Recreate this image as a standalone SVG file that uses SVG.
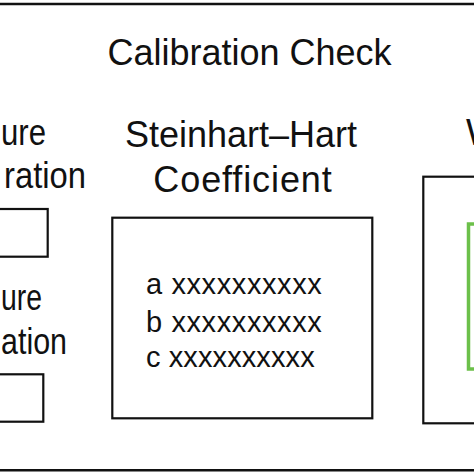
<svg xmlns="http://www.w3.org/2000/svg" width="474" height="474" viewBox="0 0 474 474">
<style>
.h{font-family:"Liberation Sans",Arial,sans-serif;font-size:36px;fill:#111}
.t{font-family:"Liberation Sans",Arial,sans-serif;font-size:29px;fill:#111}
.box{fill:none;stroke:#111;stroke-width:2.2}
.frame{stroke:#111;stroke-width:2.6}
.green{fill:none;stroke:#6cc04a;stroke-width:3.5}
</style>
<rect width="474" height="474" fill="#fff"/>
<line class="frame" x1="0" y1="4" x2="474" y2="4"/>
<line class="frame" x1="0" y1="470.3" x2="474" y2="470.3"/>
<g id="title">
<text class="h" x="249.5" y="65" text-anchor="middle" font-size="37">Calibration Check</text>
</g>
<g id="node-left-1">
<text class="h" x="1" y="145" textLength="45" lengthAdjust="spacingAndGlyphs">ure</text>
<text class="h" x="4" y="188" textLength="82" lengthAdjust="spacingAndGlyphs">ration</text>
<rect class="box" x="-10" y="209" width="57.7" height="47.7"/>
</g>
<g id="node-left-2">
<text class="h" x="1" y="310" textLength="41" lengthAdjust="spacingAndGlyphs">ure</text>
<text class="h" x="1" y="354" textLength="66" lengthAdjust="spacingAndGlyphs">ation</text>
<rect class="box" x="-10" y="374.3" width="53.3" height="47.4"/>
</g>
<g id="node-coefficient">
<text class="h" x="241" y="147" text-anchor="middle">Steinhart–Hart</text>
<text class="h" x="243" y="191.5" text-anchor="middle" letter-spacing="0.9">Coefficient</text>
<rect class="box" x="112.3" y="217.7" width="260" height="200.6"/>
<text class="t" x="146" y="294.3" letter-spacing="0.6">a xxxxxxxxxx</text>
<text class="t" x="146" y="331.5" letter-spacing="0.6">b xxxxxxxxxx</text>
<text class="t" x="146" y="367" letter-spacing="0.1">c xxxxxxxxxx</text>
</g>
<g id="node-right">
<text class="h" x="466" y="145">W</text>
<rect class="box" x="423.3" y="176.7" width="80" height="246.6"/>
<rect class="green" x="468.5" y="224" width="40" height="145"/>
</g>
<g id="connectors"></g>
</svg>
